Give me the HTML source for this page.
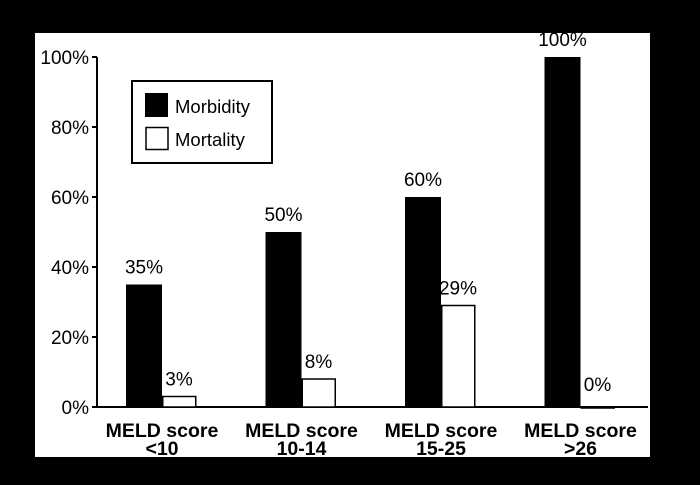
<!DOCTYPE html>
<html><head><meta charset="utf-8"><style>
html,body{margin:0;padding:0;background:#000;}
svg{display:block;font-family:"Liberation Sans",Arial,sans-serif;}
</style></head><body>
<svg id="chart" width="700" height="485">
<rect x="35" y="33" width="615" height="424" fill="#fff"/>
<g id="axes"></g><g id="bars"></g>
<g>
<rect x="132" y="81" width="140" height="82" fill="#fff" stroke="#000" stroke-width="2"/>
<rect x="145" y="93" width="23" height="24" fill="#000"/>
<text x="175" y="113" font-size="18.5">Morbidity</text>
<rect x="146" y="127.5" width="22" height="22" fill="#fff" stroke="#000" stroke-width="1.5"/>
<text x="175" y="146" font-size="18.5">Mortality</text>
</g>
</svg>
<script>
const categories=["<10","10-14","15-25",">26"];
const morbidity=[35,50,60,100];
const mortality=[3,8,29,0];
const ticks=[0,20,40,60,80,100];
const NS="http://www.w3.org/2000/svg";
const y0=407,y1=57,axisX=97;
function yS(v){return y0-(v/100)*(y0-y1);}
function xC(i){return 162+i*139.5;}
function mk(tag,attrs,parent,txt){const e=document.createElementNS(NS,tag);for(const k in attrs)e.setAttribute(k,attrs[k]);if(txt!==undefined)e.textContent=txt;parent.appendChild(e);return e;}
const ax=document.getElementById('axes'),bg=document.getElementById('bars');
let e=mk('line',{x1:axisX,y1:y1,x2:axisX,y2:y0+1,stroke:'#000','stroke-width':2},ax);


e=mk('line',{x1:axisX,y1:y0,x2:648,y2:y0,stroke:'#000','stroke-width':2},ax);


ticks.forEach(t=>{
 let l=mk('line',{x1:axisX-5,y1:yS(t),x2:axisX,y2:yS(t),stroke:'#000','stroke-width':2},ax);
 
 
 let tx=mk('text',{x:axisX-8,y:yS(t)+7,'font-size':19,'text-anchor':'end'},ax,t+'%');
 
 
});
categories.forEach((c,i)=>{
 const cx=xC(i);
 let h=yS(0)-yS(morbidity[i]);
 let b=mk('rect',{x:cx-36,y:yS(morbidity[i]),width:36,height:h,fill:'#000'},bg);
 
 
 let t=mk('text',{x:cx-18,y:yS(morbidity[i])-11,'font-size':19,'text-anchor':'middle'},bg,morbidity[i]+'%');
 
 
 h=yS(0)-yS(mortality[i]);
 b=mk('rect',{x:cx+0.75,y:yS(mortality[i]),width:33,height:Math.max(h,1),fill:'#fff',stroke:'#000','stroke-width':1.5},bg);
 
 
 t=mk('text',{x:cx+17,y:yS(mortality[i])-11-(mortality[i]===0?5:0),'font-size':19,'text-anchor':'middle'},bg,mortality[i]+'%');
 
 
 t=mk('text',{x:cx,y:437,'font-size':19.5,'font-weight':'bold','text-anchor':'middle'},bg,'MELD score');
 
 
 t=mk('text',{x:cx,y:455,'font-size':19.5,'font-weight':'bold','text-anchor':'middle'},bg,c);
 
 
});
</script>
</body></html>
